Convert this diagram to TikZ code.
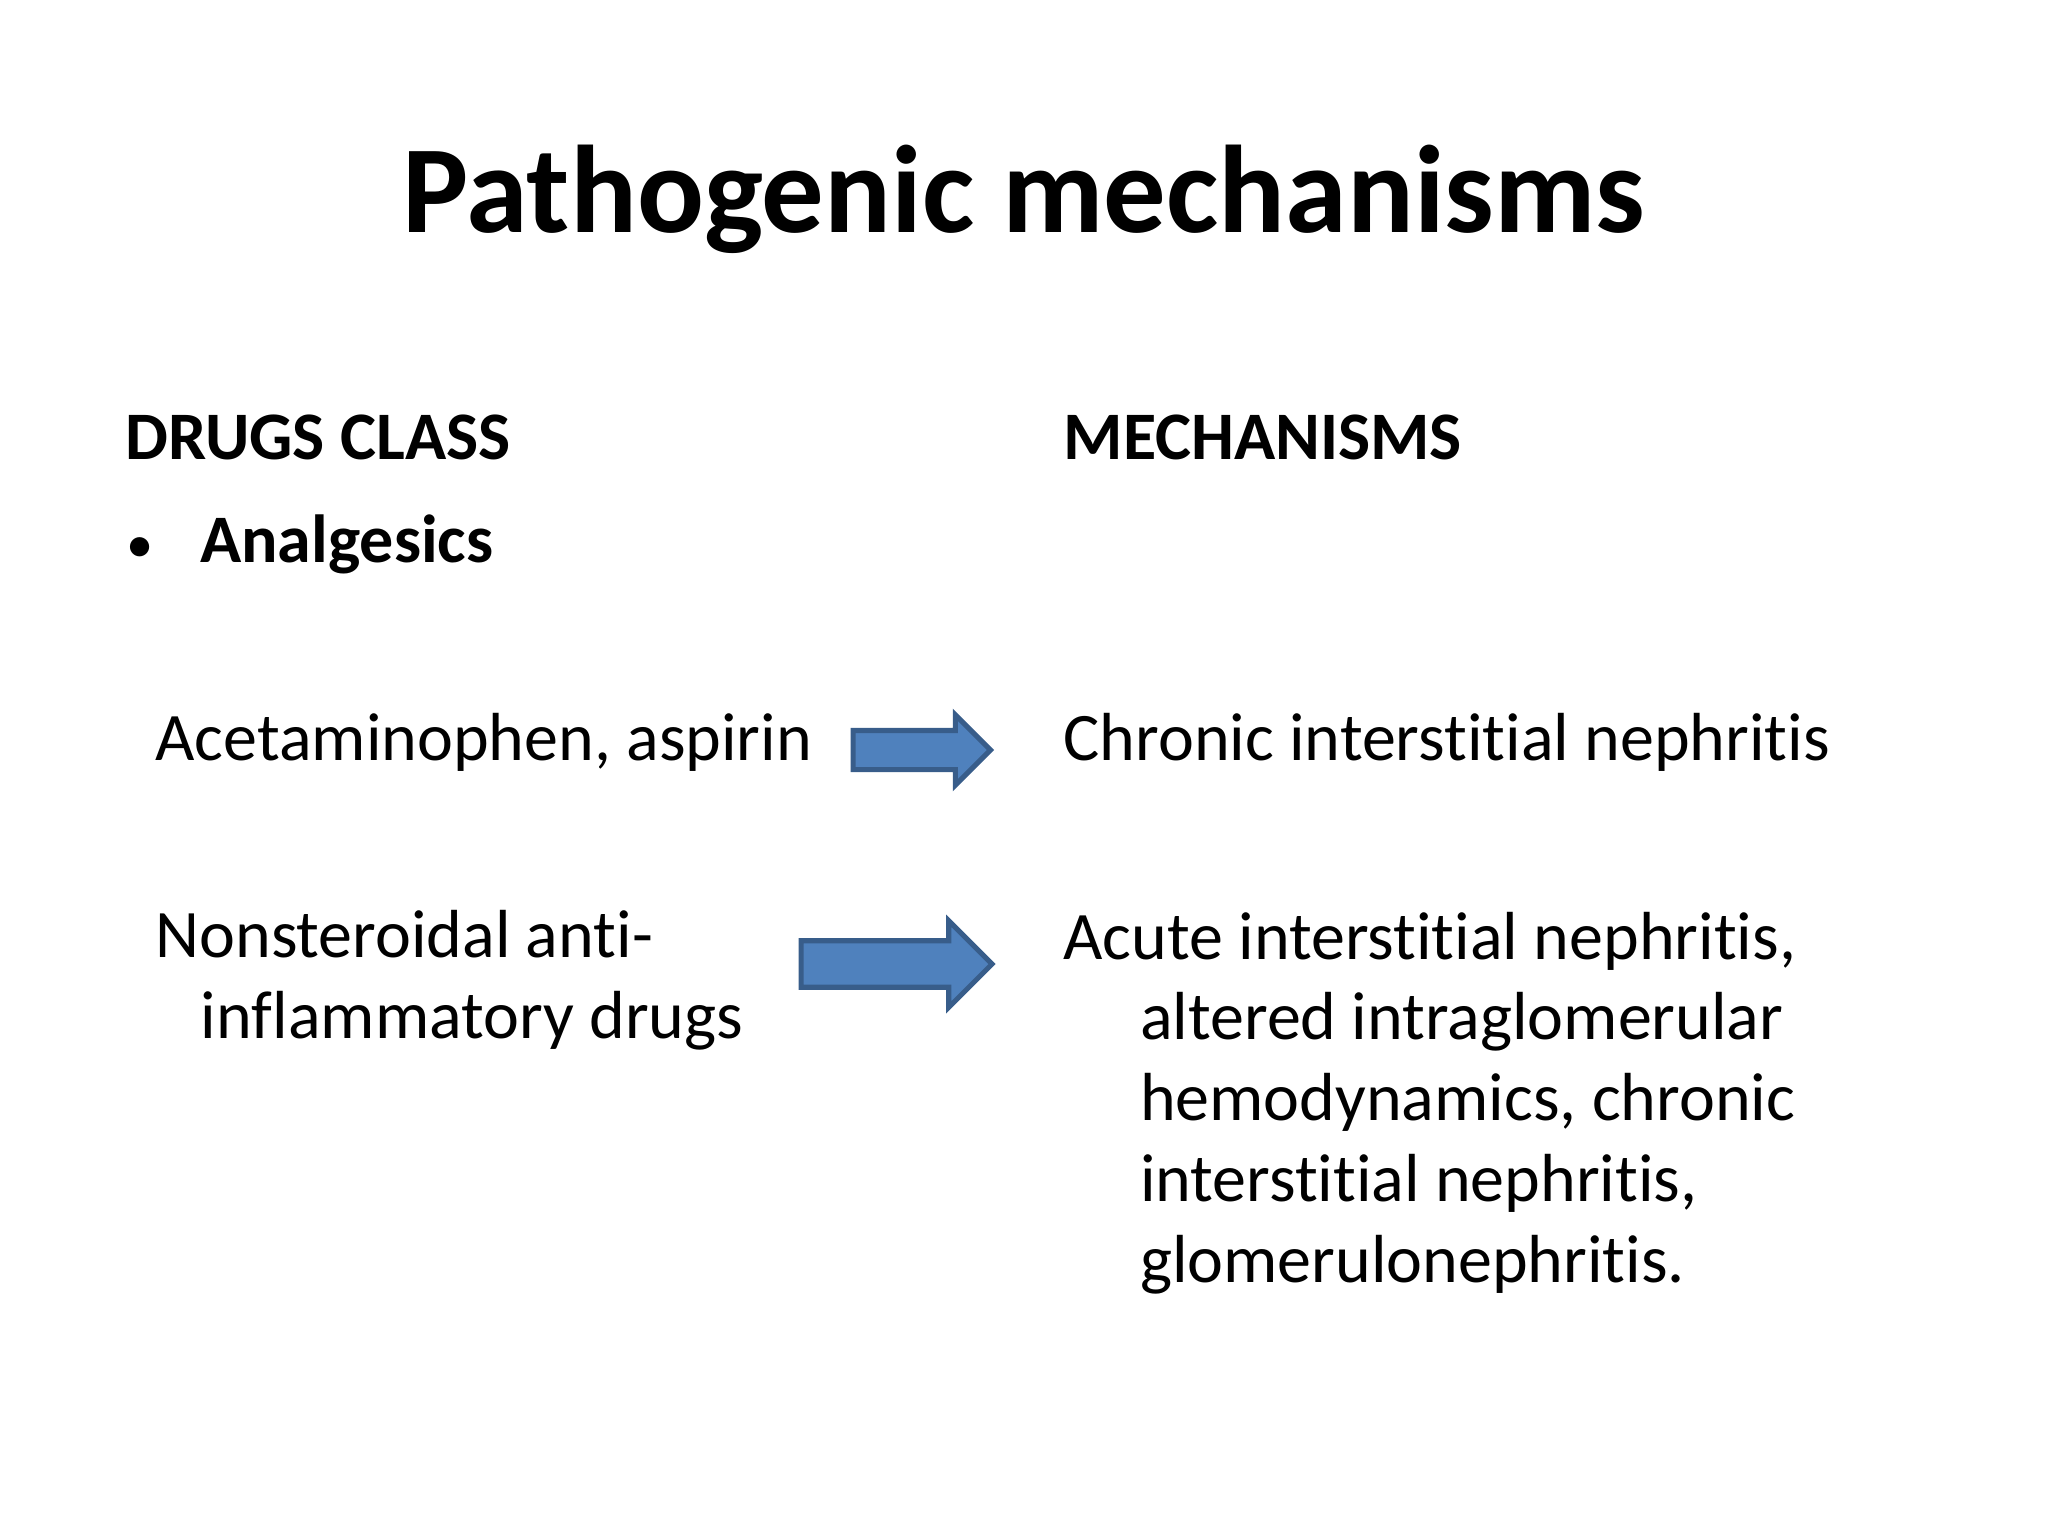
\documentclass[tikz,border=0pt]{standalone}
\usepackage{fontspec}
\setmainfont{Carlito}[Ligatures=NoCommon]
\usepackage{tikz}
\usetikzlibrary{shapes.arrows, positioning}
\definecolor{arrowfill}{HTML}{4F81BD}
\definecolor{arrowline}{HTML}{385D8A}

\begin{document}
\begin{tikzpicture}[x=0.0124023cm, y=-0.0124023cm,
  heading/.style={anchor=base west, inner sep=0pt,
                  font=\fontsize{24}{28.5}\selectfont\bfseries},
  body/.style={anchor=base west, inner sep=0pt, align=left,
               font=\fontsize{24}{28.5}\selectfont},
  blockarrow/.style={single arrow, draw=arrowline, fill=arrowfill,
                     line width=1.8pt, inner xsep=0pt, single arrow tip angle=90}
]
\useasboundingbox (0,0) rectangle (2048,1536);

\node[anchor=base, inner sep=0pt, font=\fontsize{44}{52}\selectfont\bfseries]
     (title) at (1024,232) {Pathogenic mechanisms};

% column heads
\node[heading] (drugs_h) at (125,459) {DRUGS CLASS};
\node[heading] (mech_h)  at (1063,459) {MECHANISMS};
\node[heading] (analg_n) at (126,562) {\makebox[26pt][l]{\mdseries\scalebox{0.8}{•}}Analgesics};

% rows (base = last line)
\node[body] (acet_n)    at (155,760)  {Acetaminophen, aspirin};
\node[body] (chronic_n) at (1063,760) {Chronic interstitial nephritis};

\node[body] (nsaid_n) at (155,1038)  {Nonsteroidal anti-\\\hspace*{16pt}inflammatory drugs};
\node[body] (acute_n) at (1063,1282) {Acute interstitial nephritis,\\
  \hspace*{27pt}altered intraglomerular\\
  \hspace*{27pt}hemodynamics, chronic\\
  \hspace*{27pt}interstitial nephritis,\\
  \hspace*{27pt}glomerulonephritis.};

% block arrows
\node[blockarrow, minimum height=48.5pt, inner ysep=6pt,
      single arrow head extend=5.5pt] (arr_a) at (912,750) {};
\node[blockarrow, minimum height=67.4pt, inner ysep=7.3pt,
      single arrow head extend=7.1pt] (arr_b) at (885,964) {};
\end{tikzpicture}
\end{document}
